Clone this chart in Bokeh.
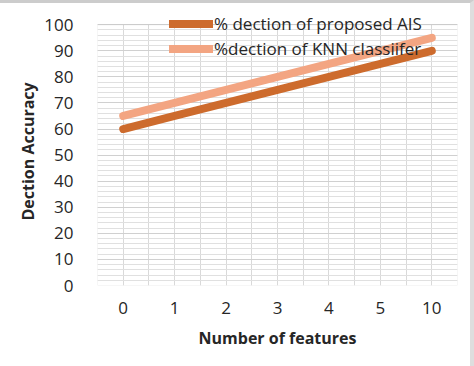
from bokeh.plotting import figure
from bokeh.models import Legend, LegendItem, FixedTicker, BoxAnnotation, Title
from bokeh.embed import file_html
from bokeh.resources import INLINE

categories = ["0", "1", "2", "3", "4", "5", "10"]
ais = [60, 65, 70, 75, 80, 85, 90]
knn = [65, 70, 75, 80, 85, 90, 95]
series_names = ["% dection of proposed AIS", "%dection of KNN classiifer"]
y_ticks = list(range(0, 101, 10))
y_minor = list(range(0, 101, 2))
y_max = 100

xs = list(range(len(categories)))

FONT = "Open Sans"
# frame extends above the 100 line so the legend (which overlaps the top) is not clipped
p = figure(width=474, height=366, output_backend="svg", toolbar_location=None,
           x_range=(-0.5, len(categories) - 0.5), y_range=(0, y_max * 279 / 258))
p.styles = {"border-top": "3px solid #cccccc", "border-right": "4px solid #dedede",
            "box-sizing": "border-box"}
p.min_border_left = 97
p.min_border_top = 0
p.min_border_right = 17
p.min_border_bottom = 84
p.outline_line_color = None

p.xaxis.ticker = FixedTicker(ticks=xs, minor_ticks=[i - 0.5 for i in xs] + [len(xs) - 0.5])
p.xaxis.major_label_overrides = {i: c for i, c in enumerate(categories)}
p.yaxis.ticker = FixedTicker(ticks=y_ticks, minor_ticks=y_minor)

for ax in (p.xaxis, p.yaxis):
    ax.axis_line_color = None
    ax.major_tick_line_color = None
    ax.minor_tick_line_color = None
    ax.major_label_text_font = FONT
    ax.major_label_text_font_size = "17px"
    ax.major_label_text_color = "#262626"
    ax.axis_label_text_font = FONT
    ax.axis_label_text_font_size = "16px"
    ax.axis_label_text_font_style = "bold"
    ax.axis_label_text_color = "#262626"

p.xaxis.axis_label = "Number of features"
p.xaxis.major_label_standoff = 10
p.xaxis.axis_label_standoff = 10
p.yaxis.major_label_standoff = 18

ytitle = Title(text="Dection Accuracy", align="left", offset=65, standoff=6,
               text_font=FONT, text_font_size="16px", text_font_style="bold",
               text_color="#262626")
p.add_layout(ytitle, "left")

p.xgrid.grid_line_color = "#d9d9d9"
p.xgrid.minor_grid_line_color = "#d9d9d9"
p.xgrid.cross_bounds = (0, y_max)
p.ygrid.grid_line_color = "#d0d0d0"
p.ygrid.minor_grid_line_color = "#e0e0e0"

p.add_layout(BoxAnnotation(left=-0.5, right=len(categories) - 0.5, bottom=0, top=y_max,
                           fill_color=None, line_color="#bfbfbf", line_width=1,
                           level="underlay"))

c1 = "#CD6B2D"
c2 = "#F3A582"
r2 = p.line(xs, knn, line_color=c2, line_width=8, line_cap="round")
r1 = p.line(xs, ais, line_color=c1, line_width=8, line_cap="round")

legend = Legend(items=[LegendItem(label=series_names[0], renderers=[r1]),
                       LegendItem(label=series_names[1], renderers=[r2])],
                location=(72, 225), orientation="vertical")
legend.background_fill_alpha = 0
legend.border_line_color = None
legend.padding = 0
legend.margin = 0
legend.spacing = 2
legend.glyph_width = 44
legend.glyph_height = 19
legend.label_height = 19
legend.label_standoff = 1
legend.label_text_font = FONT
legend.label_text_font_size = "17px"
legend.label_text_line_height = 0.9
legend.label_text_color = "#262626"
p.add_layout(legend, "center")

open("out.html", "w").write(file_html(p, INLINE))
